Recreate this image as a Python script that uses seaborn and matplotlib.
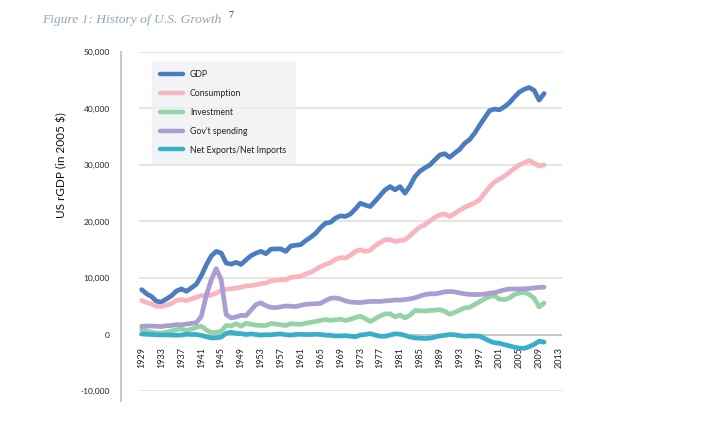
import numpy as np
import pandas as pd
import matplotlib
matplotlib.use('Agg')
import matplotlib.pyplot as plt
import seaborn as sns

# Values (per capita, 2005 dollars)
years = list(range(1929, 2011))

gdp = [7940, 7200, 6700, 5850, 5770, 6300, 6850, 7700, 8060, 7650,
       8250, 8900, 10400, 12300, 13900, 14710, 14410, 12650, 12450, 12770,
       12400, 13200, 13950, 14400, 14710, 14300, 15100, 15150, 15150, 14710,
       15650, 15800, 15900, 16600, 17200, 17900, 18900, 19700, 19850, 20600,
       21000, 20900, 21300, 22200, 23240, 22900, 22650, 23600, 24600, 25600,
       26180, 25600, 26180, 25000, 26300, 27940, 28900, 29500, 30000, 30900,
       31770, 32000, 31360, 32100, 32770, 33830, 34500, 35600, 37000, 38300,
       39600, 39900, 39770, 40300, 41000, 42000, 42900, 43400, 43720, 43200,
       41480, 42660]

consumption = [6050, 5650, 5400, 5000, 4950, 5200, 5500, 6000, 6180, 6000,
               6300, 6600, 6900, 6800, 7000, 7300, 7800, 8000, 8100, 8200,
               8350, 8600, 8650, 8800, 9000, 9100, 9500, 9600, 9700, 9700,
               10100, 10200, 10300, 10700, 11000, 11500, 12000, 12400, 12700, 13300,
               13600, 13530, 14000, 14700, 15000, 14710, 14900, 15700, 16300, 16770,
               16800, 16470, 16600, 16770, 17500, 18300, 19000, 19420, 20100, 20700,
               21180, 21300, 20880, 21400, 22000, 22500, 22900, 23300, 23830, 25000,
               26100, 27000, 27500, 28000, 28700, 29400, 30000, 30400, 30770, 30300,
               29830, 30000]

investment = [900, 650, 400, 250, 280, 400, 650, 850, 1000, 700,
              950, 1250, 1470, 800, 350, 400, 550, 1590, 1500, 1900,
              1450, 2000, 1800, 1650, 1600, 1600, 1940, 1850, 1700, 1590,
              1900, 1850, 1800, 2000, 2150, 2300, 2500, 2650, 2500, 2600,
              2700, 2470, 2700, 3000, 3230, 2800, 2300, 2800, 3300, 3650,
              3650, 3120, 3450, 2940, 3400, 4240, 4200, 4150, 4250, 4300,
              4410, 4100, 3600, 3900, 4300, 4700, 4800, 5300, 5800, 6300,
              6700, 6880, 6250, 6180, 6450, 7060, 7350, 7470, 7100, 6400,
              4880, 5590]

gov_spending = [1450, 1500, 1500, 1450, 1400, 1550, 1600, 1750, 1700, 1850,
                1950, 2100, 3200, 6900, 9650, 11650, 9700, 3530, 2940, 3100,
                3400, 3350, 4300, 5300, 5590, 5100, 4800, 4750, 4900, 5050,
                5000, 4950, 5150, 5350, 5400, 5450, 5500, 6000, 6400, 6470,
                6300, 5950, 5750, 5700, 5650, 5750, 5850, 5850, 5850, 5950,
                6000, 6100, 6100, 6180, 6300, 6500, 6800, 7060, 7200, 7200,
                7350, 7550, 7600, 7550, 7350, 7200, 7100, 7060, 7100, 7150,
                7300, 7400, 7650, 7900, 8050, 8060, 8050, 8100, 8150, 8250,
                8350, 8380]

net_exports = [100, 50, 0, -50, -80, -50, -100, -120, -100, 50,
               0, 0, -150, -400, -600, -600, -450, 200, 400, 200,
               150, 0, 100, 0, -100, -50, -50, 50, 100, -50,
               -100, 0, 50, 0, 0, 50, 0, -100, -150, -250,
               -250, -200, -300, -400, -100, 0, 150, -100, -300, -300,
               -100, 120, 50, -150, -450, -600, -650, -700, -650, -450,
               -250, -150, 0, -50, -200, -300, -250, -250, -300, -700,
               -1150, -1450, -1550, -1800, -2000, -2250, -2400, -2450, -2150, -1750,
               -1180, -1350]

series_names = ['GDP', 'Consumption', 'Investment', "Gov't spending", 'Net Exports/Net Imports']
colors = ['#4a7dc0', '#f8b5bd', '#94d3a6', '#aa9dd2', '#3aaec9']
y_ticks = [-10000, 0, 10000, 20000, 30000, 40000, 50000]
x_ticks = list(range(1929, 2014, 4))

df = pd.DataFrame({'Year': years, 'GDP': gdp, 'Consumption': consumption,
                   'Investment': investment, "Gov't spending": gov_spending,
                   'Net Exports/Net Imports': net_exports})
long_df = df.melt(id_vars='Year', var_name='Series', value_name='Value')

sns.set_style('white')
plt.rcParams['font.family'] = ['Lato', 'DejaVu Sans']

fig = plt.figure(figsize=(7.04, 4.23), dpi=100)
ax = fig.add_axes([139 / 704, 1 - 391 / 423, (562 - 139) / 704, (391 - 52) / 423])

# gridlines first so the lines sit on top
for v in y_ticks:
    ax.axhline(v, color='#bdbdbd' if v == 0 else '#e0e0e0', lw=1.2, zorder=0)

sns.lineplot(data=long_df, x='Year', y='Value', hue='Series', hue_order=series_names,
             palette=colors, linewidth=3.4, ax=ax, zorder=3)

ax.set_xlim(1928.46, 2013.6)
ax.set_ylim(-10000, 50000)
ax.set_yticks(y_ticks)
ax.set_yticklabels(['-10,000', '0', '10,000', '20,000', '30,000', '40,000', '50,000'])
ax.set_xticks(x_ticks)
ax.set_xticklabels([str(y) for y in x_ticks])
ax.set_xlabel('')
ax.set_ylabel('')

for s in ['top', 'right']:
    ax.spines[s].set_visible(False)
ax.spines['bottom'].set_position(('data', 0))
ax.spines['bottom'].set_visible(False)
ax.spines['left'].set_position(('outward', 13))
ax.spines['left'].set_color('#c8c8c8')
ax.spines['left'].set_linewidth(1.4)
ax.spines['left'].set_bounds(-11800, 50000)

ax.tick_params(axis='y', length=0, pad=8, labelsize=6, labelcolor='#222222')
ax.tick_params(axis='x', length=0, pad=9, labelsize=6.5, labelcolor='#222222',
               labelrotation=90)

leg = ax.legend(loc='upper left', bbox_to_anchor=(152 / 704, 1 - 62 / 423),
                bbox_transform=fig.transFigure, borderaxespad=0, frameon=True,
                fontsize=6.3, handlelength=2.6, handletextpad=0.8, labelspacing=1.12,
                borderpad=0.95, fancybox=False)
leg.get_frame().set_facecolor('#eef0f2')
leg.get_frame().set_edgecolor('#eef0f2')
for line in leg.get_lines():
    line.set_linewidth(3.2)
for t in leg.get_texts():
    t.set_color('#222222')

fig.text(62 / 704, 1 - 165 / 423, 'US rGDP (in 2005 $)', rotation=90, ha='center',
         va='center', fontsize=8.5, color='#111111')

fig.text(42 / 704, 1 - 23 / 423, 'Figure 1: History of U.S. Growth', fontsize=9.7,
         family='Liberation Serif', style='italic', color='#93a5bc', ha='left', va='baseline')
fig.text(228 / 704, 1 - 18 / 423, '7', fontsize=7, family='Liberation Serif', color='#333333',
         ha='left', va='baseline')

fig.savefig('out.png', dpi=100)
